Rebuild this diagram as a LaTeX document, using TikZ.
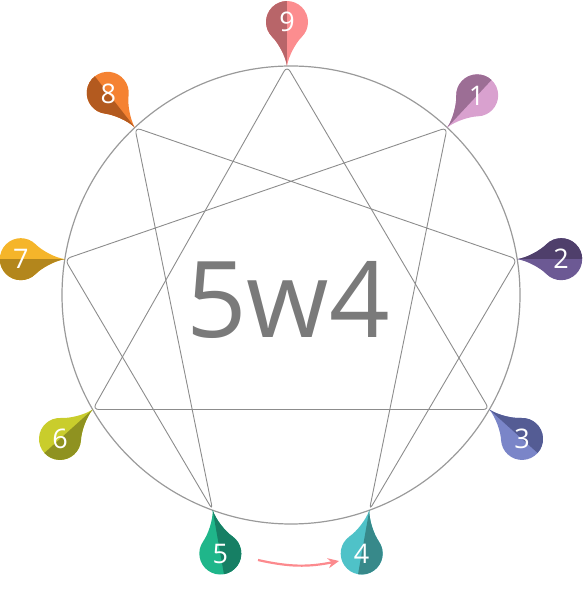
\documentclass[tikz,border=0pt]{standalone}
\usepackage{fontspec}
\setmainfont{Open Sans}
\usetikzlibrary{arrows.meta,calc}
\definecolor{lineg}{HTML}{8C8C8C}
\definecolor{circg}{HTML}{9A9A9A}
\definecolor{textg}{HTML}{7A7A7A}
\definecolor{pinkar}{HTML}{FC8A8E}
\tikzset{
  starline/.style={draw=lineg, line width=0.9pt, rounded corners=6pt},
  ringline/.style={draw=circg, line width=1.2pt},
  numtext/.style={text=white, font=\fontsize{27}{27}\selectfont, inner sep=0pt},
  bigtext/.style={text=textg, font=\fontsize{106}{106}\selectfont, inner sep=0pt},
  wingarrow/.style={draw=pinkar, line width=2.2pt, -{Stealth[length=11pt,width=10pt]}},
}
\def\droppath{(0,0) .. controls (1.5,10) and (8.8,23.2) .. (14.85,29.15) arc[start angle=-45, end angle=225, radius=21] .. controls (-8.8,23.2) and (-1.5,10) .. cycle}
\newcommand\mydrop[5]{%
  \definecolor{dropdark}{HTML}{#3}%
  \definecolor{droplight}{HTML}{#4}%
  \begin{scope}[shift={(v#1)}, rotate={#2-90}]
    \fill[droplight] \droppath;
    \begin{scope}
      \clip \droppath;
      \fill[dropdark] (-30,-2) rectangle (0,70);
    \end{scope}
  \end{scope}
  \node[numtext] (n#1) at ([shift={(#2:#5)}]v#1) {#1};
}
\begin{document}
\begin{tikzpicture}[x=1pt,y=1pt]
\useasboundingbox (0,0) rectangle (584,591);
\coordinate (c) at (291,296);
\foreach \n/\a in {9/91,1/47,2/9,3/-30,4/-70,5/-110,6/-150,7/171,8/133}
  \coordinate (v\n) at ($(c)+(\a:229)$);
\draw[ringline] (c) circle[radius=229];
\draw[starline] (v9) -- (v3) -- (v6) -- cycle;
\draw[starline] (v1) -- (v4) -- (v2) -- (v8) -- (v5) -- (v7) -- cycle;
\node[bigtext] (title) at (288,291) {5w4};
\mydrop{9}{90}{B86569}{FC8D8F}{44}
\mydrop{1}{47}{9C6E95}{D9A1CF}{43}
\mydrop{2}{0}{4F3F6B}{6C5994}{44}
\mydrop{3}{-42}{545C94}{7A85C8}{44}
\mydrop{4}{-100}{37898A}{4FC2C8}{44}
\mydrop{5}{-80}{167F64}{1FB68A}{44}
\mydrop{6}{-138}{8F9220}{C9CD2C}{44}
\mydrop{7}{180}{B3861C}{F5B52A}{44}
\mydrop{8}{128}{B35A1F}{F58232}{43}
\coordinate (a1) at (258,31);
\coordinate (a2) at (339,30);
\draw[wingarrow] (a1) to[bend right=12] (a2);
\end{tikzpicture}
\end{document}
